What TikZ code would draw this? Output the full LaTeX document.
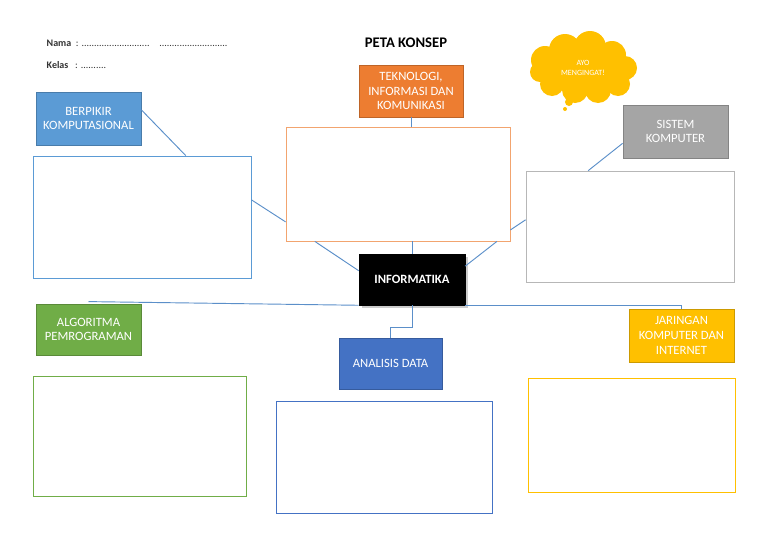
\documentclass[tikz,border=0pt]{standalone}
\usepackage{fontspec}
\setmainfont{Carlito}
\usetikzlibrary{shadows,calc}
\definecolor{cor}{HTML}{ED7D31}
\definecolor{cbl}{HTML}{5B9BD5}
\definecolor{cgr}{HTML}{A5A5A5}
\definecolor{cgn}{HTML}{70AD47}
\definecolor{cdb}{HTML}{4472C4}
\definecolor{cyl}{HTML}{FFC000}
\definecolor{cln}{HTML}{5B8FC9}
\begin{document}
\begin{tikzpicture}[x=0.75pt,y=-0.75pt,
 sz/.style 2 args={minimum width=#1*0.75pt,minimum height=#2*0.75pt,inner sep=0pt},
 lab/.style={draw=#1!80!black,fill=#1,text=white,align=center,font=\fontsize{9.5}{11}\selectfont,line width=0.6pt},
 frame/.style={draw=#1,line width=0.6pt},
 con/.style={draw=cln,line width=0.7pt}]
\useasboundingbox (0,0) rectangle (768,543);
\node[font=\bfseries\fontsize{11}{13}\selectfont] (title) at (406,43) {PETA KONSEP};
\node[anchor=west,font=\bfseries\fontsize{7.5}{9}\selectfont,text=black!80] (nama) at (42,43) {Nama \ \mdseries : ........................... \ \ \ ...........................};
\node[anchor=west,font=\bfseries\fontsize{7.5}{9}\selectfont,text=black!80] (kelas) at (42,65) {Kelas \ \ \mdseries : ..........};
% cloud
\fill[cyl] (583,69) ellipse [x radius=50,y radius=22];
\foreach \a/\b/\r in {545/60/14,565/50/16,590/47/16,612/55/14,625/68/12,618/84/12,598/90/13,575/90/13,552/84/12,540/72/10}
  \fill[cyl] (\a,\b) circle [radius=\r];
\fill[cyl] (569,102) circle [radius=4];
\fill[cyl] (565,109) circle [radius=2];
\node[text=white,align=center,font=\fontsize{6}{7}\selectfont] (cloud) at (583,68) {AYO\\MENGINGAT!};
% label boxes
\node[lab=cor,sz={104}{52}] (tik) at (411,91) {TEKNOLOGI,\\INFORMASI DAN\\KOMUNIKASI};
\node[lab=cbl,sz={105}{53}] (berp) at (88.5,118.5) {BERPIKIR\\KOMPUTASIONAL};
\node[lab=cgr,sz={105}{53}] (sis) at (675.5,131.5) {SISTEM\\KOMPUTER};
\node[draw=black,fill=black,text=white,sz={106}{51},font=\bfseries\fontsize{9.5}{11}\selectfont,drop shadow={opacity=0.4}] (inf) at (412,279.5) {INFORMATIKA};
\node[lab=cgn,sz={105}{51}] (alg) at (88.5,329.5) {ALGORITMA\\PEMROGRAMAN};
\node[lab=cdb,sz={103}{51}] (ana) at (390.5,363.5) {ANALISIS DATA};
\node[lab=cyl,sz={105}{53}] (jar) at (681.5,335.5) {JARINGAN\\KOMPUTER DAN\\INTERNET};
% frames
\node[frame=cor!70,sz={224}{114}] (fo) at (398,184) {};
\node[frame=cbl,sz={218}{122}] (fl) at (142,217) {};
\node[frame=cgr!80,sz={208}{111}] (fr) at (630,226.5) {};
\node[frame=cgn,sz={213}{120}] (fg) at (139.5,436) {};
\node[frame=cdb,sz={216}{112}] (fb) at (384,457) {};
\node[frame=cyl,sz={207}{114}] (fy) at (631.5,435) {};
% connectors
\draw[con] ($(berp.north east)!0.34!(berp.south east)$) -- ($(fl.north west)!0.70!(fl.north east)$);
\draw[con] ($(fl.north east)!0.36!(fl.south east)$) -- ($(fo.north west)!0.83!(fo.south west)$);
\draw[con] ($(fo.south west)!0.13!(fo.south east)$) -- ($(inf.north west)!0.33!(inf.south west)$);
\draw[con] (tik.south) -- (tik.south |- fo.north);
\draw[con] (fo.south -| inf.north) -- (inf.north);
\draw[con] ($(fo.south west)!0.94!(fo.south east)$) -- ($(inf.north east)!0.24!(inf.south east)$);
\draw[con] ($(fo.north east)!0.9!(fo.south east)$) -- ($(fr.north west)!0.44!(fr.south west)$);
\draw[con] ($(sis.north west)!0.72!(sis.south west)$) -- ($(fr.north west)!0.3!(fr.north east)$);
\draw[con] (inf.south west) -- ($(alg.north west)!0.5!(alg.north east)+(0,-2)$);
\draw[con] (inf.south east) -- (inf.south east -| jar.north) -- (jar.north);
\draw[con] (inf.south) -- ++(0,22) -| (ana.north);
\end{tikzpicture}
\end{document}
